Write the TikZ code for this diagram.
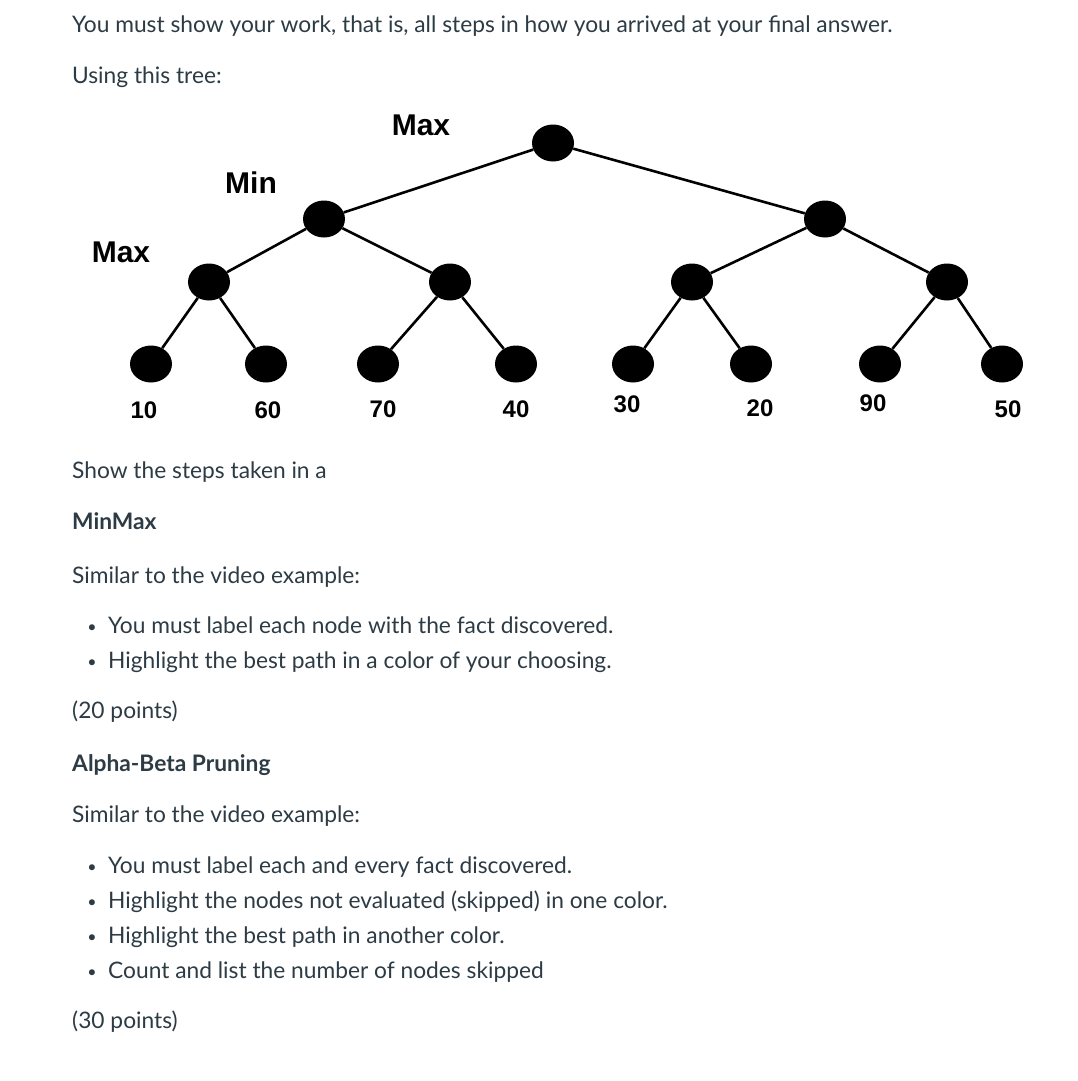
\documentclass[tikz,border=0pt]{standalone}
\usepackage{fontspec}
\setmainfont{Lato}
\newfontfamily\arialfont{Liberation Sans}
\usetikzlibrary{shapes.geometric}
\definecolor{txt}{HTML}{2D3B45}
\begin{document}
\begin{tikzpicture}[x=1pt,y=-1pt,
  body/.style={anchor=base west, inner sep=0pt, text=txt, font=\fontsize{22.75}{28}\selectfont},
  bodybold/.style={body, font=\fontsize{22.75}{28}\selectfont\bfseries},
  bul/.style={anchor=base, inner sep=0pt, text=txt, font=\fontsize{16}{20}\selectfont},
  tnode/.style={ellipse, fill=black, draw=none, minimum width=42pt, minimum height=37pt, inner sep=0pt},
  edge/.style={line width=2.6pt, black},
  lvl/.style={inner sep=0pt, font=\arialfont\fontsize{30}{36}\selectfont\bfseries},
  val/.style={inner sep=0pt, font=\arialfont\fontsize{24}{29}\selectfont\bfseries}]
\useasboundingbox (0,0) rectangle (1078,1081);
\fill[white] (0,0) rectangle (1078,1081);

% text
\node[body] (t1) at (72,33) {You must show your work, that is, all steps in how you arrived at your final answer.};
\node[body] (t2) at (72,84) {Using this tree:};
\node[body] (t3) at (72,478) {Show the steps taken in a};
\node[bodybold] (t4) at (72,529) {MinMax};
\node[body] (t5) at (72,583) {Similar to the video example:};
\node[bul] (b1) at (92,632) {•};
\node[body] (t6) at (108,633) {You must label each node with the fact discovered.};
\node[bul] (b2) at (92,667) {•};
\node[body] (t7) at (108,668) {Highlight the best path in a color of your choosing.};
\node[body] (t8) at (72,718) {(20 points)};
\node[bodybold] (t9) at (72,771) {Alpha-Beta Pruning};
\node[body] (t10) at (72,822) {Similar to the video example:};
\node[bul] (b3) at (92,872) {•};
\node[body] (t11) at (108,873) {You must label each and every fact discovered.};
\node[bul] (b4) at (92,907) {•};
\node[body] (t12) at (108,908) {Highlight the nodes not evaluated (skipped) in one color.};
\node[bul] (b5) at (92,942) {•};
\node[body] (t13) at (108,943) {Highlight the best path in another color.};
\node[bul] (b6) at (92,977) {•};
\node[body] (t14) at (108,978) {Count and list the number of nodes skipped};
\node[body] (t15) at (72,1028) {(30 points)};

% tree nodes
\node[tnode] (r) at (553,143) {};
\node[tnode] (mL) at (324,219) {};
\node[tnode] (mR) at (825,219) {};
\node[tnode] (a1) at (209,282) {};
\node[tnode] (a2) at (450,282) {};
\node[tnode] (a3) at (692,282) {};
\node[tnode] (a4) at (947,282) {};
\node[tnode] (l1) at (151,364) {};
\node[tnode] (l2) at (266,364) {};
\node[tnode] (l3) at (378,364) {};
\node[tnode] (l4) at (516,364) {};
\node[tnode] (l5) at (633,364) {};
\node[tnode] (l6) at (751,364) {};
\node[tnode] (l7) at (880,364) {};
\node[tnode] (l8) at (1002,364) {};

% edges
\draw[edge] (r) -- (mL);
\draw[edge] (r) -- (mR);
\draw[edge] (mL) -- (a1);
\draw[edge] (mL) -- (a2);
\draw[edge] (mR) -- (a3);
\draw[edge] (mR) -- (a4);
\draw[edge] (a1) -- (l1);
\draw[edge] (a1) -- (l2);
\draw[edge] (a2) -- (l3);
\draw[edge] (a2) -- (l4);
\draw[edge] (a3) -- (l5);
\draw[edge] (a3) -- (l6);
\draw[edge] (a4) -- (l7);
\draw[edge] (a4) -- (l8);

% level labels
\node[lvl] (lmax1) at (421,125) {Max};
\node[lvl] (lmin) at (251,183) {Min};
\node[lvl] (lmax2) at (121,252) {Max};

% values
\node[val] (v1) at (144,410) {10};
\node[val] (v2) at (268,410) {60};
\node[val] (v3) at (383,409) {70};
\node[val] (v4) at (516,409) {40};
\node[val] (v5) at (627,404) {30};
\node[val] (v6) at (760,408) {20};
\node[val] (v7) at (873,403) {90};
\node[val] (v8) at (1008,409) {50};
\end{tikzpicture}
\end{document}
